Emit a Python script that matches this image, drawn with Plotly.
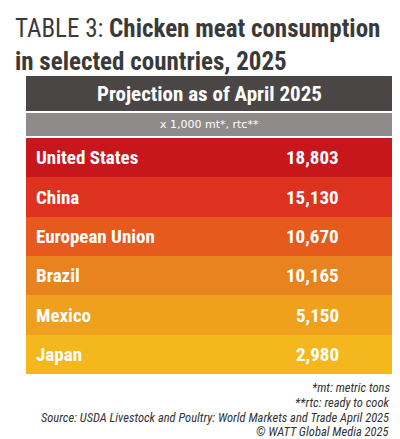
import plotly.graph_objects as go

countries = ["United States", "China", "European Union", "Brazil", "Mexico", "Japan"]
consumption = [18803, 15130, 10670, 10165, 5150, 2980]  # x 1,000 mt, rtc
row_colors = ["#c8161d", "#dc321f", "#e65a1e", "#e8831f", "#efa01c", "#f4b71e"]

NARROW = "Liberation Sans Narrow, Arial Narrow, Roboto Condensed, sans-serif"

fig = go.Figure(go.Bar(
    y=countries, x=[1] * len(countries), orientation="h", width=1,
    marker=dict(color=row_colors, line=dict(width=0)),
    hoverinfo="skip",
))

# row labels and values
for c, v in zip(countries, consumption):
    fig.add_annotation(x=0.022, y=c, xref="x", yref="y", text=f"<b>{c}</b>",
                       showarrow=False, xanchor="left", yanchor="middle",
                       font=dict(family=NARROW, size=19, color="white"))
    fig.add_annotation(x=0.86, y=c, xref="x", yref="y", text=f"<b>{v:,}</b>",
                       showarrow=False, xanchor="right", yanchor="middle",
                       font=dict(family=NARROW, size=19, color="white"))

# header bands
fig.add_shape(type="rect", xref="paper", yref="paper", x0=0, x1=1, y0=1.114, y1=1.263,
              fillcolor="#4a4646", line_width=0)
fig.add_shape(type="rect", xref="paper", yref="paper", x0=0, x1=1, y0=1.008, y1=1.106,
              fillcolor="#8f8b8b", line_width=0)
fig.add_annotation(x=0.5, y=1.188, xref="paper", yref="paper", showarrow=False,
                   yanchor="middle", text="<b>Projection as of April 2025</b>",
                   font=dict(family=NARROW, size=21, color="white"))
fig.add_annotation(x=0.5, y=1.057, xref="paper", yref="paper", showarrow=False,
                   yanchor="middle", text="x 1,000 mt*, rtc**",
                   font=dict(family="DejaVu Sans", size=11, color="white"))

# title
fig.add_annotation(x=-0.035, y=1.535, xref="paper", yref="paper", showarrow=False,
                   xanchor="left", yanchor="top", align="left",
                   text="TABLE 3: <b>Chicken meat consumption</b><br><b>in selected countries, 2025</b>",
                   font=dict(family=NARROW, size=25, color="#3a3a3a"))

# footnotes
notes = ["*mt: metric tons", "**rtc: ready to cook",
         "Source: USDA Livestock and Poultry: World Markets and Trade April 2025",
         "© WATT Global Media 2025"]
for i, t in enumerate(notes):
    fig.add_annotation(x=1.0, y=-0.059 - i * 0.062, xref="paper", yref="paper",
                       showarrow=False, xanchor="right", yanchor="middle",
                       text=f"<i>{t}</i>",
                       font=dict(family=NARROW, size=12.5, color="#333333"))

fig.update_layout(
    width=400, height=439, margin=dict(l=18, r=16, t=130, b=73),
    paper_bgcolor="white", plot_bgcolor="white", bargap=0, showlegend=False,
    xaxis=dict(range=[0, 1], visible=False, fixedrange=True),
    yaxis=dict(range=[5.5, -0.5], visible=False, fixedrange=True),
)

fig.write_html("out.html")
